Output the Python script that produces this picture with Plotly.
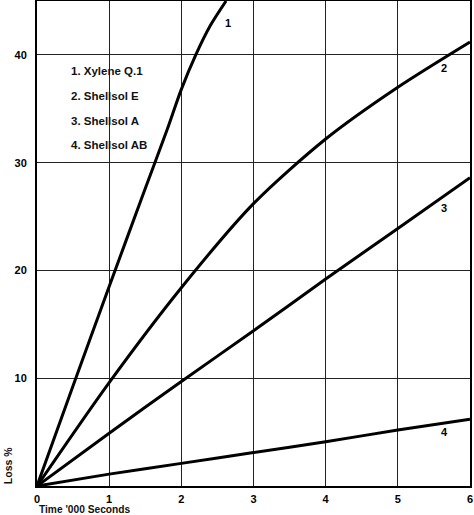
import plotly.graph_objects as go

# Time ('000 seconds) and loss (%)
x1 = [0, 0.5, 1, 1.5, 1.8, 2.0, 2.2, 2.4, 2.62]
y1 = [0, 9.3, 18.5, 27.6, 33.0, 36.8, 40.0, 42.7, 45]
x2 = [0, 1, 2, 3, 4, 5, 6]
y2 = [0, 9.6, 18.4, 26.2, 32.2, 37.0, 41.2]
x3 = [0, 1, 2, 3, 4, 5, 6]
y3 = [0, 4.9, 9.7, 14.4, 19.2, 23.9, 28.6]
x4 = [0, 1, 2, 3, 4, 5, 6]
y4 = [0, 1.1, 2.1, 3.1, 4.1, 5.2, 6.2]

series_names = ["1. Xylene Q.1", "2. Shellsol E", "3. Shellsol A", "4. Shellsol AB"]
curve_labels = ["1", "2", "3", "4"]
label_x = [2.65, 5.64, 5.64, 5.64]
label_y = [43.0, 38.8, 25.8, 5.0]

x_ticks = [0, 1, 2, 3, 4, 5, 6]
y_ticks = [10, 20, 30, 40]

FONT = "Liberation Sans, Arial, sans-serif"

fig = go.Figure()
for xs, ys, nm in zip([x1, x2, x3, x4], [y1, y2, y3, y4], series_names):
    fig.add_trace(go.Scatter(x=xs, y=ys, mode="lines", name=nm,
                             line=dict(color="black", width=3, shape="spline", smoothing=0.8),
                             showlegend=False, hoverinfo="skip"))

annotations = []
for t, lx, ly in zip(curve_labels, label_x, label_y):
    annotations.append(dict(x=lx, y=ly, xref="x", yref="y", text="<b>" + t + "</b>",
                            showarrow=False, font=dict(family=FONT, size=11, color="black")))

leg_y = [38.5, 36.2, 33.9, 31.6]
for nm, ly in zip(series_names, leg_y):
    annotations.append(dict(x=0.45, y=ly, xref="x", yref="y", text="<b>" + nm + "</b>",
                            showarrow=False, xanchor="left", yanchor="middle",
                            font=dict(family=FONT, size=11.5, color="#111")))

annotations.append(dict(x=-0.068, y=0.042, xref="paper", yref="paper", text="<b>Loss %</b>",
                        textangle=-90, showarrow=False, xanchor="center", yanchor="middle",
                        font=dict(family=FONT, size=10.5, color="#111")))
annotations.append(dict(x=0.0, y=-0.049, xref="paper", yref="paper",
                        text="<b>Time '000 Seconds</b>", showarrow=False,
                        xanchor="left", yanchor="middle",
                        font=dict(family=FONT, size=10.2, color="#111")))

fig.update_layout(
    template="none",
    width=474, height=515,
    margin=dict(l=37, r=4, t=1, b=29, autoexpand=False),
    paper_bgcolor="white", plot_bgcolor="white",
    font=dict(family=FONT, size=11, color="black"),
    annotations=annotations,
    xaxis=dict(range=[0, 6], tickvals=x_ticks, ticktext=["<b>%d</b>" % v for v in x_ticks],
               showgrid=True, gridcolor="#222", gridwidth=1.2, automargin=False,
               showline=True, linecolor="black", linewidth=2, mirror=True,
               zeroline=False, ticks="", ticklabelstandoff=2),
    yaxis=dict(range=[0, 45], tickvals=y_ticks, ticktext=["<b>%d</b>" % v for v in y_ticks],
               showgrid=True, gridcolor="#222", gridwidth=1.2, automargin=False,
               showline=True, linecolor="black", linewidth=2, mirror=True,
               zeroline=False, ticks="", ticklabelstandoff=6),
)

fig.write_html("out.html", config={"displayModeBar": False},
               post_script="document.body.style.margin='0';document.body.style.padding='0';")
